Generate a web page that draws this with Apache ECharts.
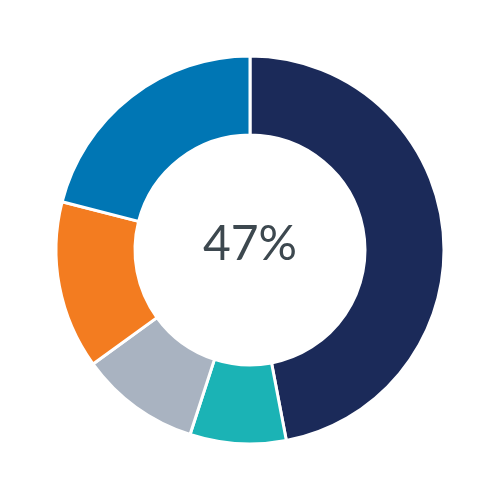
<!DOCTYPE html>
<html><head><meta charset="utf-8">
<script src="https://cdn.jsdelivr.net/npm/echarts@6/dist/echarts.min.js"></script>
<style>html,body{margin:0;padding:0;background:#fff}#c{width:500px;height:500px}</style>
</head><body><div id="c"></div>
<script>
const categories = ['A', 'B', 'C', 'D', 'E'];
const values = [47, 8, 10, 14, 21];
const colors = ['#1b2a59', '#1bb3b5', '#a9b3c1', '#f37c20', '#0076b4'];
const centerLabel = '47%';
const chart = echarts.init(document.getElementById('c'));
chart.setOption({
  animation: false,
  graphic: [{
    type: 'text', left: 'center', top: 221,
    style: { text: centerLabel, font: '400 48px Lato', fill: '#3d484f', textAlign: 'center' }
  }],
  series: [{
    type: 'pie',
    center: [250, 250],
    radius: [115, 194],
    startAngle: 90,
    clockwise: true,
    label: { show: false },
    labelLine: { show: false },
    itemStyle: { borderColor: '#fff', borderWidth: 3 },
    emphasis: { disabled: true },
    data: categories.map((n, i) => ({ name: n, value: values[i], itemStyle: { color: colors[i] } }))
  }]
});
</script></body></html>
